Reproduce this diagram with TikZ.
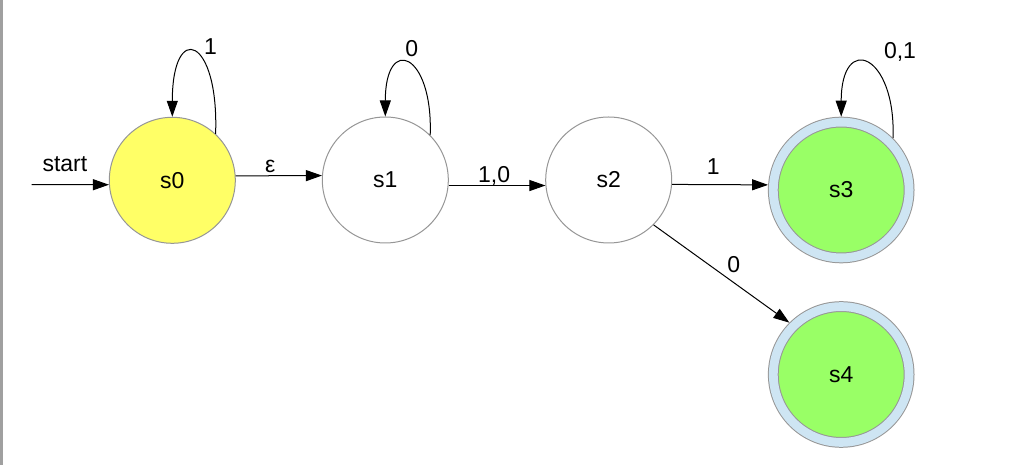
\documentclass[tikz,border=0pt]{standalone}
\usepackage{fontspec}
\setmainfont{Liberation Sans}
\usetikzlibrary{arrows.meta, positioning}
\definecolor{cStart}{RGB}{255,255,102}
\definecolor{cFinal}{RGB}{153,255,102}
\definecolor{cRing}{RGB}{206,229,243}
\definecolor{cEdge}{RGB}{150,150,150}
\definecolor{cFrame}{RGB}{160,160,160}
\tikzset{
	state/.style     ={circle, draw=cEdge, line width=1pt, minimum size=126pt, inner sep=0pt, fill=white},
	startstate/.style={state, fill=cStart},
	finalstate/.style={state, fill=cFinal, minimum size=135.8pt, double=cRing, double distance=8.8pt, outer sep=5.4pt},
	trans/.style     ={-{Triangle[length=16pt, width=11pt]}, line width=1pt},
	lbl/.style       ={inner sep=0pt, outer sep=0pt, text depth=0pt},
}
\begin{document}
\begin{tikzpicture}[x=1pt, y=1pt, font=\fontsize{23}{27}\selectfont]
	\useasboundingbox (0,0) rectangle (1011,465);
	\fill[cFrame] (0,0) rectangle (3,465);
	% states
	\node[startstate] (s0) at (172.3,284.7) {s0};
	\node[state] (s1) at (385.3,285) {s1};
	\node[state] (s2) at (608.7,285) {s2};
	\node[finalstate] (s3) at (841.2,275) {s3};
	\node[finalstate] (s4) at (841.2,90.5) {s4};
	\coordinate (start) at (31.7,280.3);
	% transitions
	\draw[trans] (start) -- (s0.184) node[lbl, pos=0.43, above=13pt] {start};
	\draw[trans] (s0.4) -- (s1.176) node[lbl, pos=0.4, above=3pt] {ε};
	\draw[trans] (s1.-5) -- (s2.185) node[lbl, pos=0.47, above=3.3pt] {1,0};
	\draw[trans] (s2.-4.5) -- (s3.176) node[lbl, pos=0.43, above=10pt] {1};
	\draw[trans] (s2.-45) -- (s4.135) node[lbl, pos=0.52, above right=4.4pt] {0};
	% self loops
	\draw[trans] (s0.47) .. controls +(88:96.9) and +(90:96.9) .. (s0.north) node[lbl, pos=0.5, above right=-2.3pt and 9pt] {1};
	\draw[trans] (s1.45) .. controls +(88:82.6) and +(90:82.6) .. (s1.north) node[lbl, pos=0.5, above right=7.3pt and -3.5pt] {0};
	\draw[trans] (s3.45) .. controls +(88:84.6) and +(90:84.6) .. (s3.north) node[lbl, pos=0.5, above right=5.7pt and 15.8pt] {0,1};
\end{tikzpicture}
\end{document}
